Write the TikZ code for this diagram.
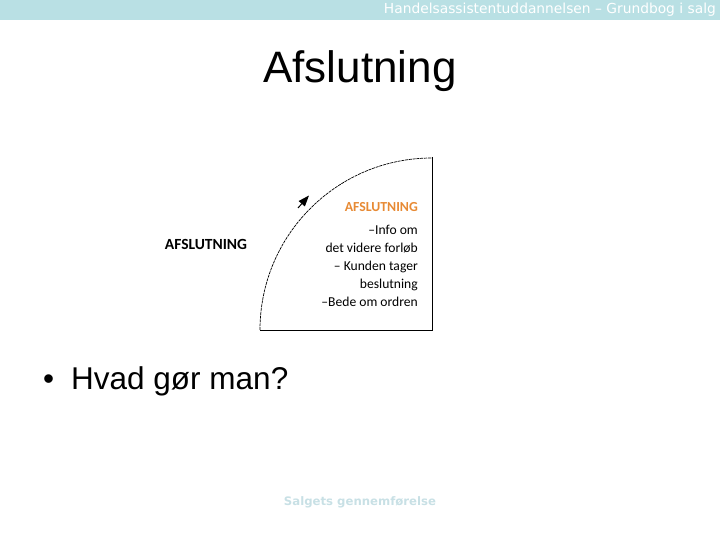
\documentclass[tikz,border=0pt]{standalone}
\usepackage{fontspec}
\setmainfont{Liberation Sans}
\newfontfamily\headfont{DejaVu Sans}
\newfontfamily\boxfont{Carlito}
\usetikzlibrary{calc}
\usetikzlibrary{positioning}
\usetikzlibrary{arrows.meta}
\definecolor{barteal}{RGB}{185,224,228}
\definecolor{footteal}{RGB}{200,224,229}
\definecolor{phaseorange}{RGB}{231,138,52}
\tikzstyle{headtext} = [anchor=east, text=white, font=\headfont\fontsize{13.8}{15}\selectfont, inner sep=0pt]
\tikzstyle{titletext} = [font=\fontsize{44}{50}\selectfont, inner sep=0pt]
\tikzstyle{bullettext} = [anchor=west, font=\fontsize{31.5}{36}\selectfont, inner sep=0pt]
\tikzstyle{phasetext} = [font=\boxfont\bfseries\fontsize{15.5}{18}\selectfont, inner sep=0pt]
\tikzstyle{stepstext} = [anchor=north east, align=right, font=\boxfont\fontsize{13.6}{18}\selectfont, inner sep=0pt]
\tikzstyle{foottext} = [text=footteal, font=\headfont\bfseries\fontsize{11.7}{13}\selectfont, inner sep=0pt]

\begin{document}
\begin{tikzpicture}[x=1pt, y=-1pt]
\useasboundingbox (0,0) rectangle (720,540);
% top bar
\fill[barteal] (0,0) rectangle (720,20);
\node[headtext] (head) at (716,10) {Handelsassistentuddannelsen – Grundbog i salg};
\node[titletext] (title) at (360,71) {Afslutning};

% phase figure
\coordinate (corner) at (432,330);
\coordinate (arcstart) at (260,330);
\coordinate (arcend) at (432,157);
\draw[line width=0.7pt, dash pattern=on 3pt off 0.8pt] (arcstart) arc[start angle=180, end angle=270, radius=172];
\draw[line width=0.8pt] (arcend) -- (corner) -- (arcstart);
\coordinate (arrtail) at (298,208);
\coordinate (arrtip) at (309,195.5);
\draw[line width=1pt, -{Triangle[length=11pt, width=8pt]}] (arrtail) -- (arrtip);
\node[phasetext] (phase) at (206,244) {AFSLUTNING};
\node[phasetext, text=phaseorange, font=\boxfont\bfseries\fontsize{13.8}{16}\selectfont, anchor=east] (phaseorange) at (418,207) {AFSLUTNING};
\node[stepstext] (steps) at (418,224.5) {–Info om\\det videre forløb\\– Kunden tager\\beslutning\\–Bede om ordren};

\node[bullettext] (bullet) at (43,381) {\textbullet\hspace{17pt}Hvad gør man?};
\node[foottext] (foot) at (360,502) {Salgets gennemførelse};
\end{tikzpicture}
\end{document}
